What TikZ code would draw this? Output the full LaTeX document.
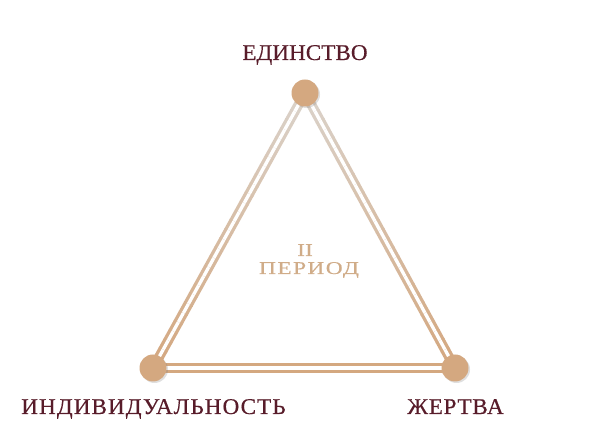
\documentclass[tikz,border=0pt]{standalone}
\usepackage{fontspec}
\setmainfont{Liberation Serif}
\usetikzlibrary{shadows,calc}
\definecolor{tanc}{RGB}{212,168,128}
\definecolor{palec}{RGB}{218,210,202}
\definecolor{maroonc}{RGB}{88,28,42}
\definecolor{centc}{RGB}{208,172,136}
\tikzset{
  dbl/.style={line width=3.3pt, double=white, double distance=3.3pt, line cap=butt},
  dot/.style={circle, fill=tanc, minimum size=27pt, inner sep=0pt,
    drop shadow={shadow xshift=1.5pt, shadow yshift=-1.5pt, opacity=0.25}},
  lbl/.style={text=maroonc, font=\fontsize{22.5}{26}\selectfont\addfontfeature{FakeBold=0.4}, anchor=base, inner sep=0pt},
  ctr/.style={text=centc, font=\fontsize{18}{20}\selectfont\addfontfeature{FakeBold=0.3}, anchor=base, inner sep=0pt}
}
\begin{document}
\begin{tikzpicture}[x=1pt,y=1pt]
\useasboundingbox (0,0) rectangle (594,446);
\fill[white] (0,0) rectangle (594,446);
\coordinate (A) at (305,353);
\coordinate (B) at (153,78);
\coordinate (C) at (455,78);
\foreach \i in {0,...,29}{
  \pgfmathsetmacro\c{\i*100/29}
  \draw[dbl, draw=tanc!\c!palec] ($(A)!\i/30!(B)$) -- ($(A)!\i/30+1/30+0.002!(B)$);
  \draw[dbl, draw=tanc!\c!palec] ($(A)!\i/30!(C)$) -- ($(A)!\i/30+1/30+0.002!(C)$);
}
\draw[dbl, draw=tanc] (B) -- (C);
\node[dot] (a) at (A) {};
\node[dot] (b) at (B) {};
\node[dot] (c) at (C) {};
\node[lbl] (la) at (305,386) {\scalebox{1.03}[1]{ЕДИНСТВО}};
\node[lbl] (lb) at (153.5,32) {\scalebox{1.03}[1]{\addfontfeature{LetterSpace=4.5}ИНДИВИДУАЛЬНОСТЬ}};
\node[lbl] (lc) at (455.5,32) {\scalebox{1.03}[1]{\addfontfeature{LetterSpace=3}ЖЕРТВА}};
\node[ctr] (p1) at (305,190) {\scalebox{1.3}[1]{II}};
\node[ctr] (p2) at (309,172) {\scalebox{1.3}[1]{\addfontfeature{LetterSpace=6}ПЕРИОД}};
\end{tikzpicture}
\end{document}
